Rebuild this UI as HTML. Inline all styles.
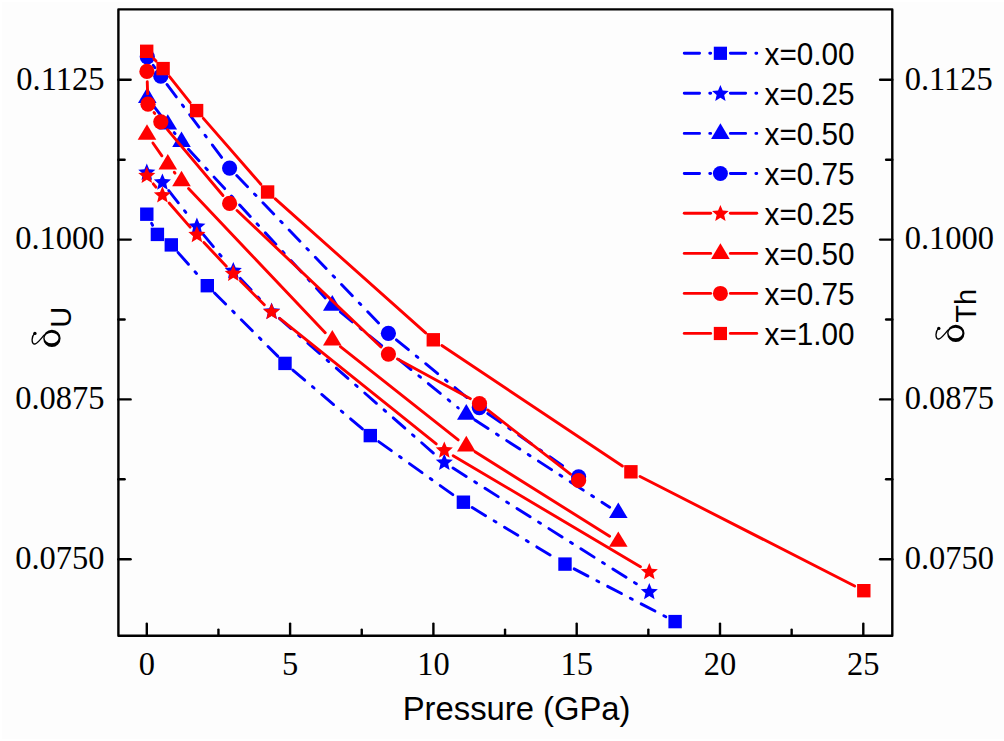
<!DOCTYPE html>
<html><head><meta charset="utf-8"><style>
html,body{margin:0;padding:0;background:#fff;}
svg{display:block;}
.serif{font-family:"Liberation Serif",serif;font-size:32.5px;fill:#000;}
.sans{font-family:"Liberation Sans",sans-serif;fill:#000;}
</style></head><body>
<svg width="1004" height="741" viewBox="0 0 1004 741">
<rect width="1004" height="741" fill="#fff"/>
<rect x="2" y="2" width="1002" height="737" fill="#fdfdfd"/>
<line x1="151.59" y1="223.32" x2="152.61" y2="225.28" stroke="#0000ff" stroke-width="2.9" stroke-linecap="round" stroke-dasharray="15.6 10.0 2.2 10.0"/>
<line x1="178.11" y1="252.62" x2="200.49" y2="277.98" stroke="#0000ff" stroke-width="2.9" stroke-linecap="round" stroke-dasharray="15.6 10.0 2.2 10.0"/>
<line x1="214.58" y1="292.98" x2="277.72" y2="356.12" stroke="#0000ff" stroke-width="2.9" stroke-linecap="round" stroke-dasharray="15.6 10.0 2.2 10.0"/>
<line x1="292.86" y1="370.05" x2="362.44" y2="428.95" stroke="#0000ff" stroke-width="2.9" stroke-linecap="round" stroke-dasharray="15.6 10.0 2.2 10.0"/>
<line x1="378.68" y1="441.59" x2="455.02" y2="496.21" stroke="#0000ff" stroke-width="2.9" stroke-linecap="round" stroke-dasharray="15.6 10.0 2.2 10.0"/>
<line x1="472.20" y1="507.56" x2="556.20" y2="558.74" stroke="#0000ff" stroke-width="2.9" stroke-linecap="round" stroke-dasharray="15.6 10.0 2.2 10.0"/>
<line x1="574.13" y1="568.87" x2="665.97" y2="616.83" stroke="#0000ff" stroke-width="2.9" stroke-linecap="round" stroke-dasharray="15.6 10.0 2.2 10.0"/>
<rect x="140.10" y="207.50" width="13.40" height="13.40" fill="#0000ff"/>
<rect x="150.70" y="227.70" width="13.40" height="13.40" fill="#0000ff"/>
<rect x="164.60" y="238.20" width="13.40" height="13.40" fill="#0000ff"/>
<rect x="200.60" y="279.00" width="13.40" height="13.40" fill="#0000ff"/>
<rect x="278.30" y="356.70" width="13.40" height="13.40" fill="#0000ff"/>
<rect x="363.60" y="428.90" width="13.40" height="13.40" fill="#0000ff"/>
<rect x="456.70" y="495.50" width="13.40" height="13.40" fill="#0000ff"/>
<rect x="558.30" y="557.40" width="13.40" height="13.40" fill="#0000ff"/>
<rect x="668.40" y="614.90" width="13.40" height="13.40" fill="#0000ff"/>
<line x1="168.74" y1="190.52" x2="190.56" y2="218.48" stroke="#0000ff" stroke-width="2.9" stroke-linecap="round" stroke-dasharray="15.6 10.0 2.2 10.0"/>
<line x1="203.44" y1="234.56" x2="226.76" y2="262.94" stroke="#0000ff" stroke-width="2.9" stroke-linecap="round" stroke-dasharray="15.6 10.0 2.2 10.0"/>
<line x1="240.36" y1="278.40" x2="264.54" y2="304.10" stroke="#0000ff" stroke-width="2.9" stroke-linecap="round" stroke-dasharray="15.6 10.0 2.2 10.0"/>
<line x1="279.35" y1="318.38" x2="436.55" y2="455.82" stroke="#0000ff" stroke-width="2.9" stroke-linecap="round" stroke-dasharray="15.6 10.0 2.2 10.0"/>
<line x1="453.01" y1="468.10" x2="640.59" y2="586.50" stroke="#0000ff" stroke-width="2.9" stroke-linecap="round" stroke-dasharray="15.6 10.0 2.2 10.0"/>
<polygon points="146.80,163.60 149.18,169.32 155.36,169.82 150.65,173.85 152.09,179.88 146.80,176.65 141.51,179.88 142.95,173.85 138.24,169.82 144.42,169.32" fill="#0000ff"/>
<polygon points="162.40,173.40 164.78,179.12 170.96,179.62 166.25,183.65 167.69,189.68 162.40,186.45 157.11,189.68 158.55,183.65 153.84,179.62 160.02,179.12" fill="#0000ff"/>
<polygon points="196.90,217.60 199.28,223.32 205.46,223.82 200.75,227.85 202.19,233.88 196.90,230.65 191.61,233.88 193.05,227.85 188.34,223.82 194.52,223.32" fill="#0000ff"/>
<polygon points="233.30,261.90 235.68,267.62 241.86,268.12 237.15,272.15 238.59,278.18 233.30,274.95 228.01,278.18 229.45,272.15 224.74,268.12 230.92,267.62" fill="#0000ff"/>
<polygon points="271.60,302.60 273.98,308.32 280.16,308.82 275.45,312.85 276.89,318.88 271.60,315.65 266.31,318.88 267.75,312.85 263.04,308.82 269.22,308.32" fill="#0000ff"/>
<polygon points="444.30,453.60 446.68,459.32 452.86,459.82 448.15,463.85 449.59,469.88 444.30,466.65 439.01,469.88 440.45,463.85 435.74,459.82 441.92,459.32" fill="#0000ff"/>
<polygon points="649.30,583.00 651.68,588.72 657.86,589.22 653.15,593.25 654.59,599.28 649.30,596.05 644.01,599.28 645.45,593.25 640.74,589.22 646.92,588.72" fill="#0000ff"/>
<line x1="153.56" y1="105.88" x2="161.54" y2="116.32" stroke="#0000ff" stroke-width="2.9" stroke-linecap="round" stroke-dasharray="15.6 10.0 2.2 10.0"/>
<line x1="174.21" y1="132.56" x2="175.09" y2="133.67" stroke="#0000ff" stroke-width="2.9" stroke-linecap="round" stroke-dasharray="15.6 10.0 2.2 10.0"/>
<line x1="188.48" y1="149.31" x2="325.32" y2="297.92" stroke="#0000ff" stroke-width="2.9" stroke-linecap="round" stroke-dasharray="15.6 10.0 2.2 10.0"/>
<line x1="340.29" y1="312.00" x2="458.31" y2="408.00" stroke="#0000ff" stroke-width="2.9" stroke-linecap="round" stroke-dasharray="15.6 10.0 2.2 10.0"/>
<line x1="474.95" y1="420.09" x2="609.65" y2="507.21" stroke="#0000ff" stroke-width="2.9" stroke-linecap="round" stroke-dasharray="15.6 10.0 2.2 10.0"/>
<polygon points="147.30,87.30 156.60,102.90 138.00,102.90" fill="#0000ff"/>
<polygon points="167.80,114.30 177.10,129.60 158.50,129.60" fill="#0000ff"/>
<polygon points="181.50,131.40 190.80,146.90 172.20,146.90" fill="#0000ff"/>
<polygon points="332.30,295.10 341.60,310.70 323.00,310.70" fill="#0000ff"/>
<polygon points="466.30,403.90 475.60,419.80 457.00,419.80" fill="#0000ff"/>
<polygon points="618.30,502.60 627.60,517.90 609.00,517.90" fill="#0000ff"/>
<line x1="153.18" y1="65.25" x2="154.92" y2="67.75" stroke="#0000ff" stroke-width="2.9" stroke-linecap="round" stroke-dasharray="15.6 10.0 2.2 10.0"/>
<line x1="166.97" y1="84.45" x2="223.43" y2="159.85" stroke="#0000ff" stroke-width="2.9" stroke-linecap="round" stroke-dasharray="15.6 10.0 2.2 10.0"/>
<line x1="236.74" y1="175.53" x2="381.26" y2="325.87" stroke="#0000ff" stroke-width="2.9" stroke-linecap="round" stroke-dasharray="15.6 10.0 2.2 10.0"/>
<line x1="396.37" y1="339.82" x2="471.33" y2="401.08" stroke="#0000ff" stroke-width="2.9" stroke-linecap="round" stroke-dasharray="15.6 10.0 2.2 10.0"/>
<line x1="487.75" y1="413.49" x2="570.15" y2="470.91" stroke="#0000ff" stroke-width="2.9" stroke-linecap="round" stroke-dasharray="15.6 10.0 2.2 10.0"/>
<circle cx="147.30" cy="56.80" r="7.60" fill="#0000ff"/>
<circle cx="160.80" cy="76.20" r="7.60" fill="#0000ff"/>
<circle cx="229.60" cy="168.10" r="7.60" fill="#0000ff"/>
<circle cx="388.40" cy="333.30" r="7.60" fill="#0000ff"/>
<circle cx="479.30" cy="407.60" r="7.60" fill="#0000ff"/>
<circle cx="578.60" cy="476.80" r="7.60" fill="#0000ff"/>
<line x1="153.25" y1="183.83" x2="155.95" y2="187.17" stroke="#ff0000" stroke-width="2.9" stroke-linecap="round"/>
<line x1="169.16" y1="202.97" x2="190.14" y2="227.13" stroke="#ff0000" stroke-width="2.9" stroke-linecap="round"/>
<line x1="203.94" y1="242.42" x2="226.26" y2="266.28" stroke="#ff0000" stroke-width="2.9" stroke-linecap="round"/>
<line x1="240.59" y1="281.07" x2="264.31" y2="304.73" stroke="#ff0000" stroke-width="2.9" stroke-linecap="round"/>
<line x1="279.64" y1="318.44" x2="436.26" y2="443.96" stroke="#ff0000" stroke-width="2.9" stroke-linecap="round"/>
<line x1="453.16" y1="455.65" x2="640.44" y2="566.75" stroke="#ff0000" stroke-width="2.9" stroke-linecap="round"/>
<polygon points="146.80,166.80 149.18,172.52 155.36,173.02 150.65,177.05 152.09,183.08 146.80,179.85 141.51,183.08 142.95,177.05 138.24,173.02 144.42,172.52" fill="#ff0000"/>
<polygon points="162.40,186.20 164.78,191.92 170.96,192.42 166.25,196.45 167.69,202.48 162.40,199.25 157.11,202.48 158.55,196.45 153.84,192.42 160.02,191.92" fill="#ff0000"/>
<polygon points="196.90,225.90 199.28,231.62 205.46,232.12 200.75,236.15 202.19,242.18 196.90,238.95 191.61,242.18 193.05,236.15 188.34,232.12 194.52,231.62" fill="#ff0000"/>
<polygon points="233.30,264.80 235.68,270.52 241.86,271.02 237.15,275.05 238.59,281.08 233.30,277.85 228.01,281.08 229.45,275.05 224.74,271.02 230.92,270.52" fill="#ff0000"/>
<polygon points="271.60,303.00 273.98,308.72 280.16,309.22 275.45,313.25 276.89,319.28 271.60,316.05 266.31,319.28 267.75,313.25 263.04,309.22 269.22,308.72" fill="#ff0000"/>
<polygon points="444.30,441.40 446.68,447.12 452.86,447.62 448.15,451.65 449.59,457.68 444.30,454.45 439.01,457.68 440.45,451.65 435.74,447.62 441.92,447.12" fill="#ff0000"/>
<polygon points="649.30,563.00 651.68,568.72 657.86,569.22 653.15,573.25 654.59,579.28 649.30,576.05 644.01,579.28 645.45,573.25 640.74,569.22 646.92,568.72" fill="#ff0000"/>
<line x1="152.91" y1="142.97" x2="161.89" y2="155.80" stroke="#ff0000" stroke-width="2.9" stroke-linecap="round"/>
<line x1="174.29" y1="172.23" x2="175.01" y2="173.13" stroke="#ff0000" stroke-width="2.9" stroke-linecap="round"/>
<line x1="188.58" y1="188.61" x2="325.22" y2="332.82" stroke="#ff0000" stroke-width="2.9" stroke-linecap="round"/>
<line x1="340.38" y1="346.69" x2="458.22" y2="439.88" stroke="#ff0000" stroke-width="2.9" stroke-linecap="round"/>
<line x1="475.02" y1="451.74" x2="609.58" y2="536.26" stroke="#ff0000" stroke-width="2.9" stroke-linecap="round"/>
<polygon points="147.00,124.20 156.30,139.70 137.70,139.70" fill="#ff0000"/>
<polygon points="167.80,153.90 177.10,169.40 158.50,169.40" fill="#ff0000"/>
<polygon points="181.50,170.80 190.80,186.30 172.20,186.30" fill="#ff0000"/>
<polygon points="332.30,329.90 341.60,345.50 323.00,345.50" fill="#ff0000"/>
<polygon points="466.30,435.80 475.60,451.50 457.00,451.50" fill="#ff0000"/>
<polygon points="618.30,531.60 627.60,546.80 609.00,546.80" fill="#ff0000"/>
<line x1="147.25" y1="81.69" x2="147.65" y2="93.91" stroke="#ff0000" stroke-width="2.9" stroke-linecap="round"/>
<line x1="154.06" y1="112.53" x2="154.74" y2="113.47" stroke="#ff0000" stroke-width="2.9" stroke-linecap="round"/>
<line x1="167.44" y1="129.67" x2="222.96" y2="195.53" stroke="#ff0000" stroke-width="2.9" stroke-linecap="round"/>
<line x1="237.07" y1="210.49" x2="380.93" y2="347.01" stroke="#ff0000" stroke-width="2.9" stroke-linecap="round"/>
<line x1="397.45" y1="359.02" x2="470.45" y2="398.68" stroke="#ff0000" stroke-width="2.9" stroke-linecap="round"/>
<line x1="487.64" y1="409.91" x2="570.46" y2="474.19" stroke="#ff0000" stroke-width="2.9" stroke-linecap="round"/>
<circle cx="146.90" cy="71.40" r="7.60" fill="#ff0000"/>
<circle cx="148.00" cy="104.20" r="7.60" fill="#ff0000"/>
<circle cx="160.80" cy="121.80" r="7.60" fill="#ff0000"/>
<circle cx="229.60" cy="203.40" r="7.60" fill="#ff0000"/>
<circle cx="388.40" cy="354.10" r="7.60" fill="#ff0000"/>
<circle cx="479.50" cy="403.60" r="7.60" fill="#ff0000"/>
<circle cx="578.60" cy="480.50" r="7.60" fill="#ff0000"/>
<line x1="153.79" y1="58.78" x2="156.01" y2="61.12" stroke="#ff0000" stroke-width="2.9" stroke-linecap="round"/>
<line x1="169.52" y1="76.65" x2="190.18" y2="102.55" stroke="#ff0000" stroke-width="2.9" stroke-linecap="round"/>
<line x1="203.37" y1="118.36" x2="260.83" y2="184.24" stroke="#ff0000" stroke-width="2.9" stroke-linecap="round"/>
<line x1="275.29" y1="198.86" x2="425.61" y2="332.94" stroke="#ff0000" stroke-width="2.9" stroke-linecap="round"/>
<line x1="441.86" y1="345.52" x2="622.34" y2="466.08" stroke="#ff0000" stroke-width="2.9" stroke-linecap="round"/>
<line x1="640.07" y1="476.48" x2="854.63" y2="586.02" stroke="#ff0000" stroke-width="2.9" stroke-linecap="round"/>
<rect x="140.00" y="44.60" width="13.40" height="13.40" fill="#ff0000"/>
<rect x="156.40" y="61.90" width="13.40" height="13.40" fill="#ff0000"/>
<rect x="189.90" y="103.90" width="13.40" height="13.40" fill="#ff0000"/>
<rect x="260.90" y="185.30" width="13.40" height="13.40" fill="#ff0000"/>
<rect x="426.60" y="333.10" width="13.40" height="13.40" fill="#ff0000"/>
<rect x="624.20" y="465.10" width="13.40" height="13.40" fill="#ff0000"/>
<rect x="857.10" y="584.00" width="13.40" height="13.40" fill="#ff0000"/>
<rect x="118.40" y="9.40" width="773.90" height="626.40" fill="none" stroke="#000" stroke-width="2.4" stroke-linejoin="round"/>
<line x1="146.80" y1="635.80" x2="146.80" y2="623.60" stroke="#000" stroke-width="2.4" stroke-linecap="round"/>
<line x1="290.10" y1="635.80" x2="290.10" y2="623.60" stroke="#000" stroke-width="2.4" stroke-linecap="round"/>
<line x1="433.40" y1="635.80" x2="433.40" y2="623.60" stroke="#000" stroke-width="2.4" stroke-linecap="round"/>
<line x1="576.70" y1="635.80" x2="576.70" y2="623.60" stroke="#000" stroke-width="2.4" stroke-linecap="round"/>
<line x1="720.00" y1="635.80" x2="720.00" y2="623.60" stroke="#000" stroke-width="2.4" stroke-linecap="round"/>
<line x1="863.30" y1="635.80" x2="863.30" y2="623.60" stroke="#000" stroke-width="2.4" stroke-linecap="round"/>
<line x1="218.45" y1="635.80" x2="218.45" y2="629.60" stroke="#000" stroke-width="2.4" stroke-linecap="round"/>
<line x1="361.75" y1="635.80" x2="361.75" y2="629.60" stroke="#000" stroke-width="2.4" stroke-linecap="round"/>
<line x1="505.05" y1="635.80" x2="505.05" y2="629.60" stroke="#000" stroke-width="2.4" stroke-linecap="round"/>
<line x1="648.35" y1="635.80" x2="648.35" y2="629.60" stroke="#000" stroke-width="2.4" stroke-linecap="round"/>
<line x1="791.65" y1="635.80" x2="791.65" y2="629.60" stroke="#000" stroke-width="2.4" stroke-linecap="round"/>
<line x1="118.40" y1="79.80" x2="130.60" y2="79.80" stroke="#000" stroke-width="2.4" stroke-linecap="round"/>
<line x1="892.30" y1="79.80" x2="880.10" y2="79.80" stroke="#000" stroke-width="2.4" stroke-linecap="round"/>
<line x1="118.40" y1="239.60" x2="130.60" y2="239.60" stroke="#000" stroke-width="2.4" stroke-linecap="round"/>
<line x1="892.30" y1="239.60" x2="880.10" y2="239.60" stroke="#000" stroke-width="2.4" stroke-linecap="round"/>
<line x1="118.40" y1="399.40" x2="130.60" y2="399.40" stroke="#000" stroke-width="2.4" stroke-linecap="round"/>
<line x1="892.30" y1="399.40" x2="880.10" y2="399.40" stroke="#000" stroke-width="2.4" stroke-linecap="round"/>
<line x1="118.40" y1="559.20" x2="130.60" y2="559.20" stroke="#000" stroke-width="2.4" stroke-linecap="round"/>
<line x1="892.30" y1="559.20" x2="880.10" y2="559.20" stroke="#000" stroke-width="2.4" stroke-linecap="round"/>
<line x1="118.40" y1="159.70" x2="124.60" y2="159.70" stroke="#000" stroke-width="2.4" stroke-linecap="round"/>
<line x1="892.30" y1="159.70" x2="886.10" y2="159.70" stroke="#000" stroke-width="2.4" stroke-linecap="round"/>
<line x1="118.40" y1="319.50" x2="124.60" y2="319.50" stroke="#000" stroke-width="2.4" stroke-linecap="round"/>
<line x1="892.30" y1="319.50" x2="886.10" y2="319.50" stroke="#000" stroke-width="2.4" stroke-linecap="round"/>
<line x1="118.40" y1="479.30" x2="124.60" y2="479.30" stroke="#000" stroke-width="2.4" stroke-linecap="round"/>
<line x1="892.30" y1="479.30" x2="886.10" y2="479.30" stroke="#000" stroke-width="2.4" stroke-linecap="round"/>
<text transform="translate(146.80,674.9) scale(1,1.065)" text-anchor="middle" class="serif">0</text>
<text transform="translate(290.10,674.9) scale(1,1.065)" text-anchor="middle" class="serif">5</text>
<text transform="translate(433.40,674.9) scale(1,1.065)" text-anchor="middle" class="serif">10</text>
<text transform="translate(576.70,674.9) scale(1,1.065)" text-anchor="middle" class="serif">15</text>
<text transform="translate(720.00,674.9) scale(1,1.065)" text-anchor="middle" class="serif">20</text>
<text transform="translate(863.30,674.9) scale(1,1.065)" text-anchor="middle" class="serif">25</text>
<text transform="translate(104.5,89.60) scale(1,1.065)" text-anchor="end" class="serif">0.1125</text>
<text transform="translate(904.7,89.60) scale(1,1.065)" text-anchor="start" class="serif">0.1125</text>
<text transform="translate(104.5,249.40) scale(1,1.065)" text-anchor="end" class="serif">0.1000</text>
<text transform="translate(904.7,249.40) scale(1,1.065)" text-anchor="start" class="serif">0.1000</text>
<text transform="translate(104.5,409.20) scale(1,1.065)" text-anchor="end" class="serif">0.0875</text>
<text transform="translate(904.7,409.20) scale(1,1.065)" text-anchor="start" class="serif">0.0875</text>
<text transform="translate(104.5,569.00) scale(1,1.065)" text-anchor="end" class="serif">0.0750</text>
<text transform="translate(904.7,569.00) scale(1,1.065)" text-anchor="start" class="serif">0.0750</text>
<text transform="translate(516.6,719.8) scale(1,1.0)" text-anchor="middle" class="sans" style="font-size:32.8px">Pressure (GPa)</text>
<path d="M43.2,338.3 A8.7,8.6 0 1,0 60.6,338.3 A8.7,8.6 0 1,0 43.2,338.3 Z M44.6,337.95 A6.95,5.3 0 1,1 58.5,337.95 A6.95,5.3 0 1,1 44.6,337.95 Z" fill="#000" fill-rule="evenodd"/>
<path d="M44.6,334.8 C41.8,337.4 38.6,342.6 35.3,343.9 C33.2,344.6 32.0,342.5 32.1,339.6 C32.2,336.9 33.2,334.6 34.6,333.4" stroke="#000" stroke-width="1.35" fill="none"/>
<circle cx="34.9" cy="333.4" r="1.7" fill="#000"/>
<g transform="translate(903.9,-5.0)"><path d="M43.2,338.3 A8.7,8.6 0 1,0 60.6,338.3 A8.7,8.6 0 1,0 43.2,338.3 Z M44.6,337.95 A6.95,5.3 0 1,1 58.5,337.95 A6.95,5.3 0 1,1 44.6,337.95 Z" fill="#000" fill-rule="evenodd"/>
<path d="M44.6,334.8 C41.8,337.4 38.6,342.6 35.3,343.9 C33.2,344.6 32.0,342.5 32.1,339.6 C32.2,336.9 33.2,334.6 34.6,333.4" stroke="#000" stroke-width="1.35" fill="none"/>
<circle cx="34.9" cy="333.4" r="1.7" fill="#000"/></g>
<g transform="translate(60.2,348) rotate(-90)"><text x="0" y="0" style="font-family:'Liberation Serif',serif;font-size:43px"><tspan style="fill:none">&#948;</tspan><tspan style="font-family:'Liberation Sans',sans-serif;font-size:29px" dy="11">U</tspan></text></g>
<g transform="translate(964.8,343) rotate(-90)"><text x="0" y="0" style="font-family:'Liberation Serif',serif;font-size:43px"><tspan style="fill:none">&#948;</tspan><tspan style="font-family:'Liberation Sans',sans-serif;font-size:29px" dy="11">Th</tspan></text></g>
<line x1="684.25" y1="53.20" x2="710.65" y2="53.20" stroke="#0000ff" stroke-width="2.9" stroke-linecap="round" stroke-dasharray="15.3 10.2 0.9 20"/>
<line x1="730.35" y1="53.20" x2="756.75" y2="53.20" stroke="#0000ff" stroke-width="2.9" stroke-linecap="round" stroke-dasharray="15.3 10.2 0.9 20"/>
<rect x="713.80" y="46.70" width="13.20" height="13.20" fill="#0000ff"/>
<text transform="translate(764.6,65.10) scale(1,1.045)" class="sans" style="font-size:29.7px">x=0.00</text>
<line x1="684.25" y1="93.30" x2="710.65" y2="93.30" stroke="#0000ff" stroke-width="2.9" stroke-linecap="round" stroke-dasharray="15.3 10.2 0.9 20"/>
<line x1="730.35" y1="93.30" x2="756.75" y2="93.30" stroke="#0000ff" stroke-width="2.9" stroke-linecap="round" stroke-dasharray="15.3 10.2 0.9 20"/>
<polygon points="720.40,85.00 722.73,90.60 728.77,91.08 724.17,95.02 725.57,100.92 720.40,97.76 715.23,100.92 716.63,95.02 712.03,91.08 718.07,90.60" fill="#0000ff"/>
<text transform="translate(764.6,105.20) scale(1,1.045)" class="sans" style="font-size:29.7px">x=0.25</text>
<line x1="684.25" y1="133.40" x2="710.65" y2="133.40" stroke="#0000ff" stroke-width="2.9" stroke-linecap="round" stroke-dasharray="15.3 10.2 0.9 20"/>
<line x1="730.35" y1="133.40" x2="756.75" y2="133.40" stroke="#0000ff" stroke-width="2.9" stroke-linecap="round" stroke-dasharray="15.3 10.2 0.9 20"/>
<polygon points="720.40,123.20 729.70,138.90 711.10,138.90" fill="#0000ff"/>
<text transform="translate(764.6,145.30) scale(1,1.045)" class="sans" style="font-size:29.7px">x=0.50</text>
<line x1="684.25" y1="173.50" x2="710.65" y2="173.50" stroke="#0000ff" stroke-width="2.9" stroke-linecap="round" stroke-dasharray="15.3 10.2 0.9 20"/>
<line x1="730.35" y1="173.50" x2="756.75" y2="173.50" stroke="#0000ff" stroke-width="2.9" stroke-linecap="round" stroke-dasharray="15.3 10.2 0.9 20"/>
<circle cx="720.40" cy="173.50" r="7.50" fill="#0000ff"/>
<text transform="translate(764.6,185.40) scale(1,1.045)" class="sans" style="font-size:29.7px">x=0.75</text>
<line x1="684.25" y1="213.30" x2="710.65" y2="213.30" stroke="#ff0000" stroke-width="2.9" stroke-linecap="round"/>
<line x1="730.35" y1="213.30" x2="756.75" y2="213.30" stroke="#ff0000" stroke-width="2.9" stroke-linecap="round"/>
<polygon points="720.40,205.00 722.73,210.60 728.77,211.08 724.17,215.02 725.57,220.92 720.40,217.76 715.23,220.92 716.63,215.02 712.03,211.08 718.07,210.60" fill="#ff0000"/>
<text transform="translate(764.6,225.20) scale(1,1.045)" class="sans" style="font-size:29.7px">x=0.25</text>
<line x1="684.25" y1="253.40" x2="710.65" y2="253.40" stroke="#ff0000" stroke-width="2.9" stroke-linecap="round"/>
<line x1="730.35" y1="253.40" x2="756.75" y2="253.40" stroke="#ff0000" stroke-width="2.9" stroke-linecap="round"/>
<polygon points="720.40,243.20 729.70,258.90 711.10,258.90" fill="#ff0000"/>
<text transform="translate(764.6,265.30) scale(1,1.045)" class="sans" style="font-size:29.7px">x=0.50</text>
<line x1="684.25" y1="293.40" x2="710.65" y2="293.40" stroke="#ff0000" stroke-width="2.9" stroke-linecap="round"/>
<line x1="730.35" y1="293.40" x2="756.75" y2="293.40" stroke="#ff0000" stroke-width="2.9" stroke-linecap="round"/>
<circle cx="720.40" cy="293.40" r="7.50" fill="#ff0000"/>
<text transform="translate(764.6,305.30) scale(1,1.045)" class="sans" style="font-size:29.7px">x=0.75</text>
<line x1="684.25" y1="333.40" x2="710.65" y2="333.40" stroke="#ff0000" stroke-width="2.9" stroke-linecap="round"/>
<line x1="730.35" y1="333.40" x2="756.75" y2="333.40" stroke="#ff0000" stroke-width="2.9" stroke-linecap="round"/>
<rect x="713.80" y="326.90" width="13.20" height="13.20" fill="#ff0000"/>
<text transform="translate(764.6,345.30) scale(1,1.045)" class="sans" style="font-size:29.7px">x=1.00</text>
</svg>
</body></html>
